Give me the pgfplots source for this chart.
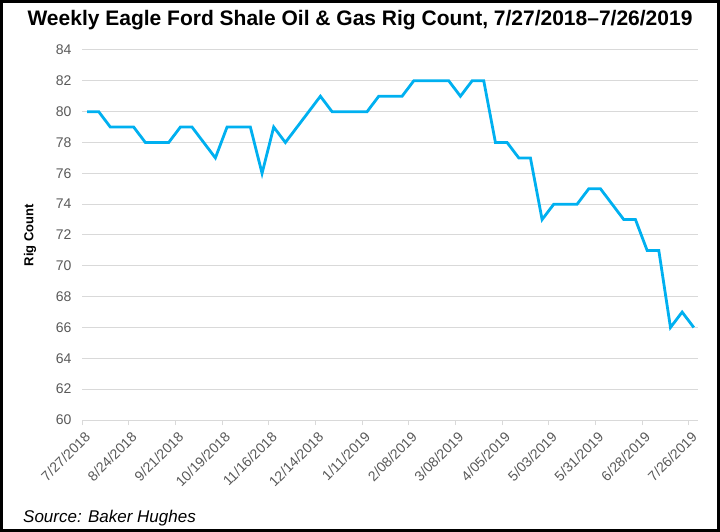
\documentclass[border=0pt]{standalone}
\usepackage{pgfplots}
\pgfplotsset{compat=1.18}
\usepackage{fontspec}
\setmainfont{Liberation Sans}
\definecolor{rigblue}{RGB}{0,176,240}
\definecolor{gridgray}{RGB}{217,217,217}
\definecolor{labelgray}{RGB}{89,89,89}

\begin{document}
\begin{tikzpicture}
  \useasboundingbox (0,0) rectangle (720bp,532bp);
  \begin{axis}[
      at={(82bp,112bp)}, anchor=south west,
      scale only axis,
      width=616bp, height=370bp,
      xmin=-0.43, xmax=52.36,
      ymin=60, ymax=84,
      ytick={60,62,...,84},
      xtick={0,4,...,52},
      xticklabels={7/27/2018,8/24/2018,9/21/2018,10/19/2018,11/16/2018,12/14/2018,1/11/2019,2/08/2019,3/08/2019,4/05/2019,5/03/2019,5/31/2019,6/28/2019,7/26/2019},
      axis x line*=bottom, axis y line*=left,
      x axis line style={-, draw=gridgray, line width=1bp},
      y axis line style={draw=none},
      ytick style={draw=none},
      xtick style={draw=gridgray, line width=1bp, xshift=-5bp},
      xtick align=outside,
      major tick length=5bp,
      ymajorgrids,
      grid style={draw=gridgray, line width=1bp},
      /pgf/number format/assume math mode=true,
      tick label style={font=\fontsize{14bp}{16bp}\selectfont, text=labelgray},
      yticklabel style={xshift=-7bp},
      x tick label style={xshift=3bp, yshift=-7bp, rotate=45, anchor=east},
      ylabel={Rig Count},
      ylabel style={font=\fontsize{13bp}{15bp}\selectfont\bfseries,
        at={(axis description cs:-0.0844,0.5)}, anchor=center},
      clip=false,
    ]
    \addplot[rigblue, line width=2.8bp, line join=miter, mark=none] table {
      x y
      0 80
      1 80
      2 79
      3 79
      4 79
      5 78
      6 78
      7 78
      8 79
      9 79
      10 78
      11 77
      12 79
      13 79
      14 79
      15 76
      16 79
      17 78
      18 79
      19 80
      20 81
      21 80
      22 80
      23 80
      24 80
      25 81
      26 81
      27 81
      28 82
      29 82
      30 82
      31 82
      32 81
      33 82
      34 82
      35 78
      36 78
      37 77
      38 77
      39 73
      40 74
      41 74
      42 74
      43 75
      44 75
      45 74
      46 73
      47 73
      48 71
      49 71
      50 66
      51 67
      52 66
    };
  \end{axis}
  \node[anchor=base, inner sep=0pt, font=\fontsize{21bp}{24bp}\selectfont\bfseries]
    at (360bp,506.5bp) {Weekly Eagle Ford Shale Oil \& Gas Rig Count, 7/27/2018–7/26/2019};
  \node[anchor=base west, inner sep=0pt, font=\fontsize{17bp}{20bp}\selectfont\itshape]
    at (23bp,10bp) {Source: Baker Hughes};
  \draw[line width=3bp] (1.5bp,1.5bp) rectangle (718.5bp,530.5bp);
\end{tikzpicture}
\end{document}
